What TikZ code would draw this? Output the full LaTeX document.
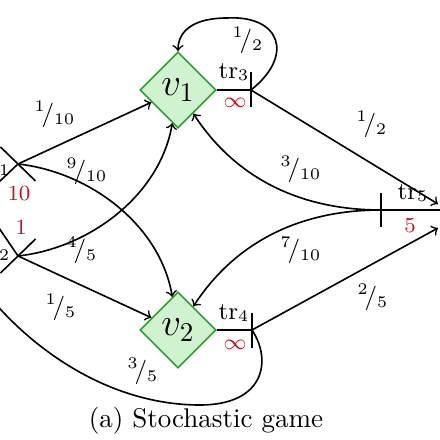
\documentclass[tikz,border=0pt]{standalone}
\usepackage{amssymb,amsmath}
\usetikzlibrary{shapes.geometric}

\definecolor{playergreen}{RGB}{46,158,46}
\definecolor{playerfill}{RGB}{206,243,206}
\definecolor{costred}{RGB}{190,20,35}
\newcommand{\prob}[2]{\small${}^{#1}\!/_{#2}$}

\begin{document}
\begin{tikzpicture}[x=0.013cm,y=-0.013cm,semithick,
  player/.style={diamond,draw=playergreen,fill=playerfill,aspect=1,
    inner sep=0pt,minimum width=0.99cm,minimum height=0.99cm,font=\Large},
  cost/.style={text=costred,font=\footnotesize}]

\useasboundingbox (0,0) rectangle (440,440);
\clip (0,0) rectangle (440,440);

% players
\node[player] (v1) at (178,90) {$v_1$};
\node[player] (v2) at (178,330) {$v_2$};

% transition points
\coordinate (tr1) at (18,164);
\coordinate (tr2) at (18,256);
\coordinate (tr3) at (251,90);
\coordinate (tr4) at (252,330);
\coordinate (tr5) at (381,210);

% nodes outside the crop
\coordinate (v0) at (-20,200);
\coordinate (v4) at (-20,285);
\coordinate (v3a) at (438,204);
\coordinate (v3b) at (438,228);
\coordinate (v3c) at (440,210);

% ticks
\draw (tr1) ++(-17.5,-17) -- ++(35,34);
\draw (tr2) ++(-17.5,17) -- ++(35,-34);
\draw (tr3) ++(0,-17.5) -- ++(0,35);
\draw (tr4) ++(0,-17.5) -- ++(0,35);
\draw (tr5) ++(0,-17) -- ++(0,34);

% player to transition
\draw (v0) -- (tr1);
\draw (v0) -- (tr2);
\draw (v1) -- (tr3);
\draw (v2) -- (tr4);
\draw (v3c) -- (tr5);

% tr1, tr2
\draw[->] (tr1) -- (v1);
\draw[->] (tr1) .. controls (90,172) and (160,225) .. (v2);
\draw[->] (tr2) .. controls (90,248) and (160,195) .. (v1);
\draw[->] (tr2) -- (v2);

% tr3
\draw[->] (tr3) .. controls (295,55) and (280,15) .. (227,18)
                .. controls (195,18) and (178,30) .. (v1);
\draw[->] (tr3) -- (v3a);

% tr4
\draw[->] (tr4) -- (v3b);
\draw[->] (tr4) .. controls (272,360) and (265,405) .. (200,405)
                .. controls (110,405) and (30,350) .. (v4);

% tr5
\draw[->] (tr5) .. controls (290,210) and (230,170) .. (v1);
\draw[->] (tr5) .. controls (290,210) and (230,250) .. (v2);

% transition labels
\node at (-5,167) {\small$\mathrm{tr}_1$};
\node at (-5,252) {\small$\mathrm{tr}_2$};
\node at (234,72) {\small$\mathrm{tr}_3$};
\node at (234,313) {\small$\mathrm{tr}_4$};
\node at (413,193) {\small$\mathrm{tr}_5$};

% costs
\node[cost] at (19,194) {$10$};
\node[cost] at (21,228) {$1$};
\node[cost] at (235,103) {$\infty$};
\node[cost] at (235,345) {$\infty$};
\node[cost] at (410,226) {$5$};

% probabilities
\node at (55,114) {\prob{1}{10}};
\node at (87,171) {\prob{9}{10}};
\node at (82,250) {\prob{4}{5}};
\node at (61,307) {\prob{1}{5}};
\node at (143,371) {\prob{3}{5}};
\node at (248,40) {\prob{1}{2}};
\node at (372,124) {\prob{1}{2}};
\node at (301,169) {\prob{3}{10}};
\node at (301,250) {\prob{7}{10}};
\node at (373,297) {\prob{2}{5}};

\node at (206,421) {(a) Stochastic game};

\end{tikzpicture}
\end{document}
